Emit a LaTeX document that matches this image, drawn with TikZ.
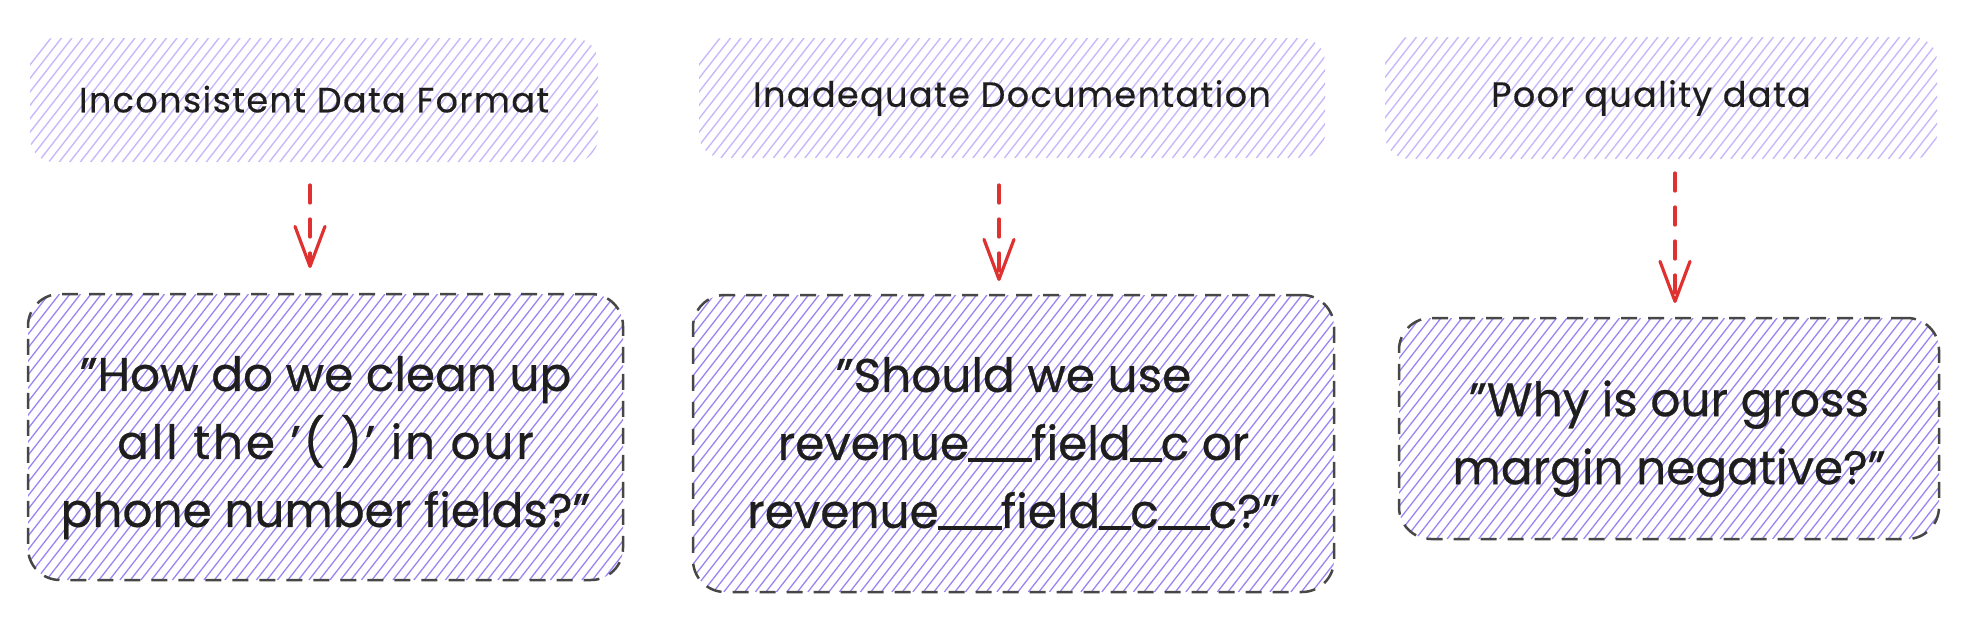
\documentclass[tikz,border=0pt]{standalone}
\usepackage{fontspec}
\setmainfont{Poppins}[FakeBold=0.6]
\newfontfamily\labelfont{Poppins}[LetterSpace=4, FakeBold=0.4]
\usetikzlibrary{arrows.meta,backgrounds,calc}
\definecolor{ink}{HTML}{1E1E1E}
\definecolor{edge}{HTML}{474747}
\definecolor{hatchA}{HTML}{C9B8FA}
\definecolor{hatchB}{HTML}{9C84F2}
\definecolor{arrred}{HTML}{E03131}
\newcommand\usL{\kern-1pt\rule[-2pt]{64pt}{3.5pt}\kern-1pt}
\newcommand\usS{\kern-1pt\rule[-2pt]{32pt}{3.5pt}\kern-1pt}
\newcommand\usM{\kern-1pt\rule[-2pt]{52pt}{3.5pt}\kern-1pt}
\newcommand\topstrut{\rule{0pt}{56pt}}
\newcommand\hatchfill[3]{%
  \begin{scope}
    \clip[rounded corners=#3] (#1.south west) rectangle (#1.north east);
    \path (#1.south west); \pgfgetlastxy{\hxa}{\hya}
    \path (#1.north east); \pgfgetlastxy{\hxb}{\hyb}
    \pgfmathsetmacro\hh{\hyb-\hya}
    \pgfmathsetmacro\hd{\hh*0.78}
    \pgfmathsetmacro\hs{\hxa-\hd}
    \pgfmathsetmacro\hn{\hs+10.5}
    \pgfmathsetmacro\hend{\hxb}
    \foreach \xx in {\hs,\hn,...,\hend}
      \draw[#2] (\xx pt,\hya) -- ++(\hd pt,\hh pt);
  \end{scope}}
\begin{document}
\begin{tikzpicture}[x=1pt,y=-1pt,
  topbox/.style={inner sep=0pt, outer sep=0pt, text=ink,
    font=\labelfont\fontsize{35}{40}\selectfont},
  qbox/.style={draw=edge, line width=2.5pt, dash pattern=on 16pt off 11pt,
    rounded corners=32pt, inner sep=0pt, outer sep=0pt, text=ink, align=center,
    font=\fontsize{47}{68}\selectfont},
  hatchtop/.style={draw=hatchA, line width=1.4pt},
  hatchbot/.style={draw=hatchB, line width=1.3pt},
  arr/.style={draw=arrred, line width=3.2pt, dash pattern=on 18pt off 16pt, line cap=round,
    -{Straight Barb[length=40pt,width=30pt,round]}}
]
\useasboundingbox (0,0) rectangle (1982,632);

\node[topbox, minimum width=568pt, minimum height=124pt] (t1) at (314,100) {\raisebox{2pt}{Inconsistent Data Format}};
\node[topbox, minimum width=626pt, minimum height=120pt] (t2) at (1012,98) {Inadequate Documentation};
\node[topbox, minimum width=552pt, minimum height=122pt] (t3) at (1661,98) {\hspace*{-20pt}Poor quality data};

\node[qbox, minimum width=595pt, minimum height=286pt] (q1) at (325.5,437)
  {\topstrut"How do we clean up\\{\addfontfeature{LetterSpace=6}all the '(\hspace{16pt})' in our}\\phone number fields?"};
\node[qbox, minimum width=641pt, minimum height=297pt] (q2) at (1013.5,443.5)
  {"Should we use\\revenue\usL field\usS c or\\revenue\usL field\usS c\usM c?"};
\node[qbox, minimum width=540pt, minimum height=221pt] (q3) at (1669,428.5)
  {\topstrut"Why is our gross\\margin negative?"};

\begin{pgfonlayer}{background}
  \hatchfill{t1}{hatchtop}{24pt}
  \hatchfill{t2}{hatchtop}{24pt}
  \hatchfill{t3}{hatchtop}{24pt}
  \hatchfill{q1}{hatchbot}{32pt}
  \hatchfill{q2}{hatchbot}{32pt}
  \hatchfill{q3}{hatchbot}{32pt}
\end{pgfonlayer}

\draw[arr, shorten <=23pt, shorten >=26pt] ([xshift=-4pt]t1.south) -- ([xshift=-4pt]t1.south |- q1.north);
\draw[arr, shorten <=27pt, shorten >=14pt] ([xshift=-13pt]t2.south) -- ([xshift=-13pt]t2.south |- q2.north);
\draw[arr, shorten <=14pt, shorten >=15pt] ([xshift=14pt]t3.south) -- ([xshift=14pt]t3.south |- q3.north);
\end{tikzpicture}
\end{document}
